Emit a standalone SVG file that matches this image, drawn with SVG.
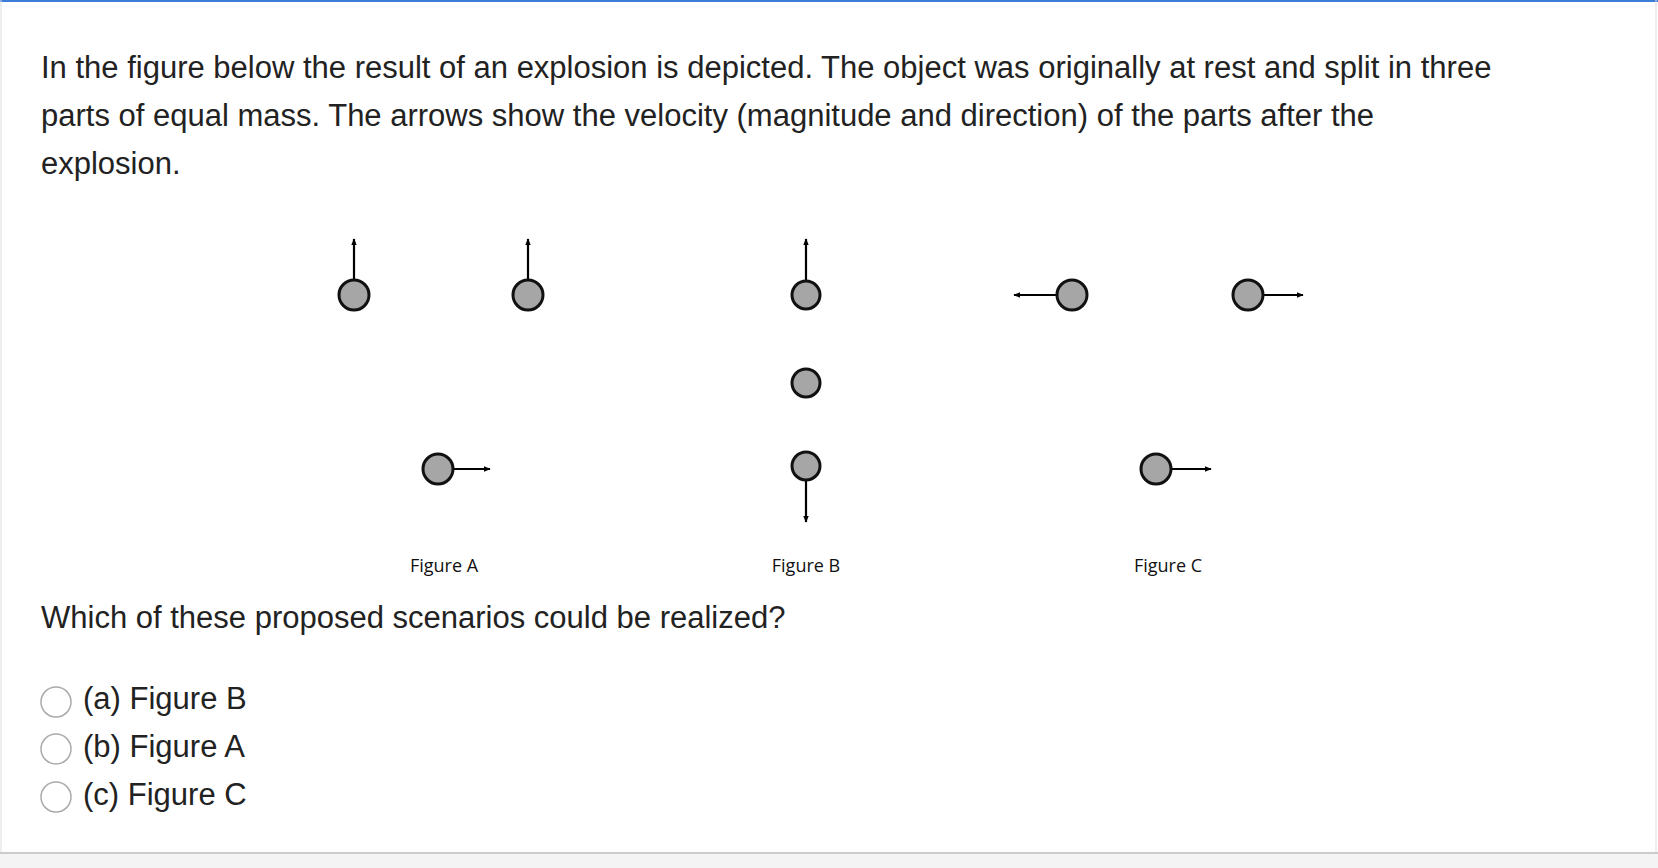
<svg xmlns="http://www.w3.org/2000/svg" width="1658" height="868" viewBox="0 0 1658 868">
<defs>
<marker id="ah" viewBox="0 0 10 10" refX="9" refY="5" markerWidth="7" markerHeight="7" markerUnits="userSpaceOnUse" orient="auto"><path d="M0,1 L10,5 L0,9 z" fill="#000"/></marker>
<style>
.t{font-family:"Liberation Sans",Arial,sans-serif;font-size:31px;fill:#222}
.l{font-family:"Open Sans","Liberation Sans",sans-serif;font-size:18px;fill:#111;text-anchor:middle}
.b{fill:#a6a6a6;stroke:#111;stroke-width:3}
.a{stroke:#000;stroke-width:2.2;fill:none;marker-end:url(#ah)}
.r{fill:#fff;stroke:#aaa;stroke-width:1.5}
</style>
</defs>
<rect width="1658" height="868" fill="#fff"/>
<rect x="0" y="0" width="1658" height="2" fill="#3b7dd8"/>
<line x1="1" y1="0" x2="1" y2="853" stroke="#ddd"/>
<line x1="1656" y1="0" x2="1656" y2="853" stroke="#ddd"/>
<rect x="0" y="853" width="1658" height="15" fill="#f4f4f4"/>
<line x1="0" y1="853" x2="1658" y2="853" stroke="#ccc" stroke-width="2"/>
<text class="t" x="41" y="78">In the figure below the result of an explosion is depicted. The object was originally at rest and split in three</text>
<text class="t" x="41" y="126">parts of equal mass. The arrows show the velocity (magnitude and direction) of the parts after the</text>
<text class="t" x="41" y="174">explosion.</text>
<g id="connectors">
<line class="a" x1="354" y1="280" x2="354" y2="239"/>
<line class="a" x1="528" y1="280" x2="528" y2="239"/>
<line class="a" x1="453" y1="469" x2="490" y2="469"/>
<line class="a" x1="806" y1="280" x2="806" y2="239"/>
<line class="a" x1="806" y1="480" x2="806" y2="522"/>
<line class="a" x1="1057" y1="295" x2="1014" y2="295"/>
<line class="a" x1="1263" y1="295" x2="1303" y2="295"/>
<line class="a" x1="1171" y1="469" x2="1211" y2="469"/>
</g>
<g id="A1"><circle class="b" cx="354" cy="295" r="15"/></g>
<g id="A2"><circle class="b" cx="528" cy="295" r="15"/></g>
<g id="A3"><circle class="b" cx="438" cy="469" r="15"/></g>
<g id="B1"><circle class="b" cx="806" cy="295" r="14"/></g>
<g id="B2"><circle class="b" cx="806" cy="383" r="14"/></g>
<g id="B3"><circle class="b" cx="806" cy="466" r="14"/></g>
<g id="C1"><circle class="b" cx="1072" cy="295" r="15"/></g>
<g id="C2"><circle class="b" cx="1248" cy="295" r="15"/></g>
<g id="C3"><circle class="b" cx="1156" cy="469" r="15"/></g>
<text class="l" x="444" y="572">Figure A</text>
<text class="l" x="806" y="572">Figure B</text>
<text class="l" x="1168" y="572">Figure C</text>
<text class="t" x="41" y="628">Which of these proposed scenarios could be realized?</text>
<g id="optA"><circle class="r" cx="56" cy="702" r="15"/><text class="t" x="83" y="709">(a) Figure B</text></g>
<g id="optB"><circle class="r" cx="56" cy="749" r="15"/><text class="t" x="83" y="757">(b) Figure A</text></g>
<g id="optC"><circle class="r" cx="56" cy="797" r="15"/><text class="t" x="83" y="805">(c) Figure C</text></g>
</svg>
